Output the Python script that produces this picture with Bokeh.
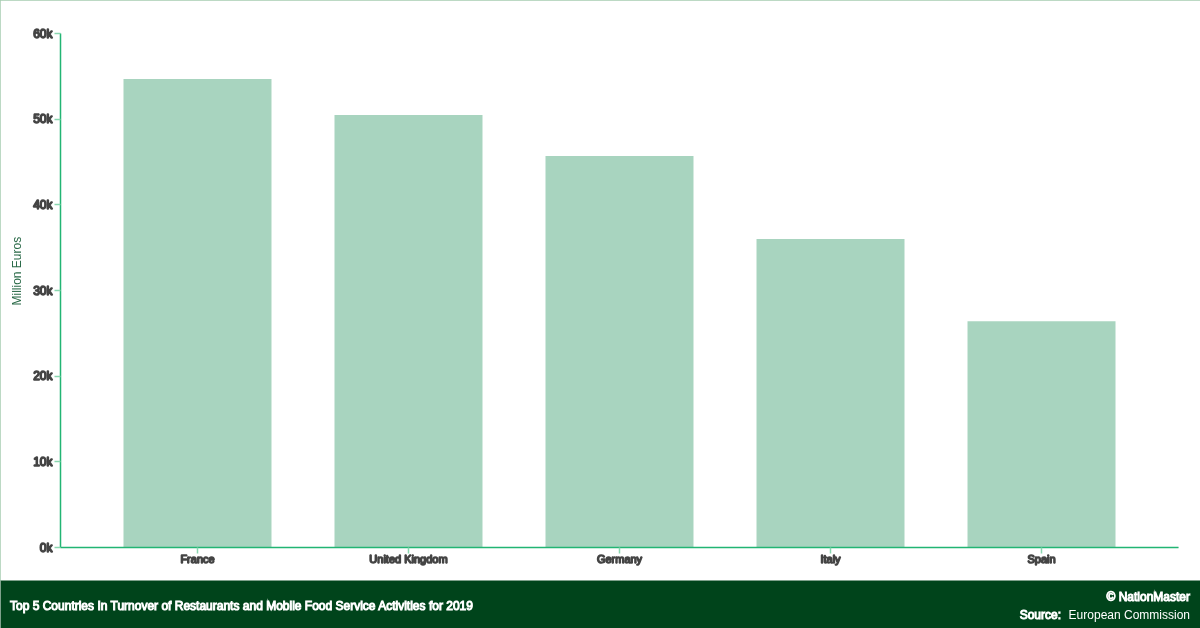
from bokeh.embed import file_html
from bokeh.models import CustomLabelingPolicy, FactorRange, FixedTicker, Label, LinearAxis, Range1d, Title
from bokeh.plotting import figure
from bokeh.resources import INLINE

# data (million euros)
countries = ["France", "United Kingdom", "Germany", "Italy", "Spain"]
turnover = [54700, 50500, 45700, 36000, 26420]
y_ticks = [0, 10000, 20000, 30000, 40000, 50000, 60000]
y_tick_labels = ["0k", "10k", "20k", "30k", "40k", "50k", "60k"]

title = "Top 5 Countries In Turnover of Restaurants and Mobile Food Service Activities for 2019"
y_label = "Million Euros"

W, H, BAND = 1200, 628, 48
FONT = "Liberation Sans"
AXIS = "#22b573"
TICK = "#8ad6b0"
TEXT = "#444444"
BANNER = "#00441b"
X_PAD = 0.0597

# the chart runs one pixel under the footer band, which hides the bottom of its frame
p = figure(width=W, height=H - BAND + 1, output_backend="svg", toolbar_location=None,
           x_range=FactorRange(factors=countries, range_padding=X_PAD),
           y_range=Range1d(0, 60000),
           min_border_left=60, min_border_right=22, min_border_top=33, min_border_bottom=34)
p.outline_line_color = None
p.grid.visible = False
# the reference runs edge to edge, so both parts sit outside the body margin
p.styles = {"position": "fixed", "left": "0", "top": "0",
            "outline": "1px solid #a6ccb0", "outline-offset": "-1px"}

p.vbar(x=countries, top=turnover, width=0.7014, fill_color="#a8d4bf", line_color=None)

xaxis = p.xaxis[0]
yaxis = p.yaxis[0]
yaxis.ticker = FixedTicker(ticks=y_ticks)
yaxis.major_label_overrides = dict(zip(y_ticks, y_tick_labels))
for ax in (xaxis, yaxis):
    ax.axis_line_color = AXIS
    ax.axis_line_width = 1.5
    ax.major_tick_line_color = TICK
    ax.major_tick_line_width = 1.5
    ax.major_tick_in = 0
    ax.major_tick_out = 6
    ax.minor_tick_line_color = None
    ax.major_label_standoff = 2
    ax.major_label_text_color = TEXT
    ax.major_label_text_outline_color = TEXT
    ax.major_label_text_font = FONT
xaxis.major_label_text_font_size = "11px"
xaxis.major_label_standoff = -1
yaxis.major_label_text_font_size = "12px"

# darker end ticks of the two axis lines, pinned on the chart corners
x_start = -len(countries) * X_PAD / 2
x_end = len(countries) - x_start
end_y = LinearAxis(ticker=FixedTicker(ticks=[0, 60000]), fixed_location=x_start)
end_x = LinearAxis(ticker=FixedTicker(ticks=[x_start, x_end]), fixed_location=0)
for ax in (end_y, end_x):
    ax.axis_line_color = None
    ax.major_tick_line_color = AXIS
    ax.major_tick_line_width = 1.5
    ax.major_tick_in = 0
    ax.major_tick_out = 6
    ax.minor_tick_line_color = None
    ax.major_label_policy = CustomLabelingPolicy(code="return false")
p.add_layout(end_y, "left")
p.add_layout(end_x, "below")

p.add_layout(Title(text=y_label, align="left", offset=242, standoff=14, text_font=FONT,
                   text_font_size="12px", text_font_style="normal", text_color="#2a6a48"), "left")

band = figure(width=W, height=BAND, output_backend="svg", toolbar_location=None,
              x_range=Range1d(0, W), y_range=Range1d(0, BAND), min_border=0,
              background_fill_color=BANNER, border_fill_color=BANNER)
band.axis.visible = False
band.grid.visible = False
band.outline_line_color = None
band.styles = {"position": "fixed", "left": "0", "top": f"{H - BAND}px", "z-index": "1"}


def label(x, y, text, **kw):
    band.add_layout(Label(x=x, y=y, text=text, x_units="canvas", y_units="canvas", text_font=FONT,
                          text_font_size="12px", text_baseline="middle", text_color="white", **kw))


label(9.5, 25, title, text_outline_color="white")
label(1189.5, 16, "\u00a9 NationMaster", text_align="right", text_outline_color="white")
label(1189.5, 34.5, "European Commission", text_align="right")
label(1060.5, 34.5, "Source:", text_align="right", text_outline_color="white")

open("out.html", "w").write(file_html([p, band], INLINE))
